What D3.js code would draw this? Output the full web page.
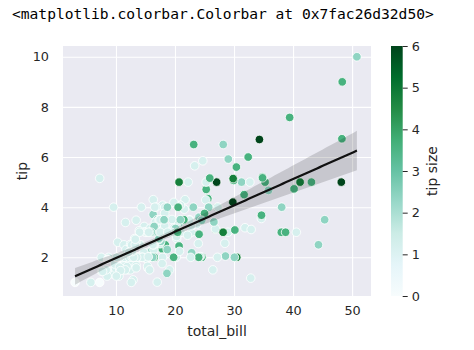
<!DOCTYPE html>
<html><head><meta charset="utf-8">
<script src="https://cdn.jsdelivr.net/npm/d3@7"></script>
<style>
html,body{margin:0;padding:0;background:#fff;}
svg{display:block;}
</style></head>
<body><svg id="chart" width="474" height="350"></svg>
<script>
const totalBill = [16.99,10.34,21.01,23.68,24.59,25.29,8.77,26.88,15.04,14.78,10.27,35.26,15.42,18.43,14.83,21.58,10.33,16.29,16.97,20.65,17.92,20.29,15.77,39.42,19.82,17.81,13.37,12.69,21.7,19.65,9.55,18.35,15.06,20.69,17.78,24.06,16.31,16.93,18.69,31.27,16.04,17.46,13.94,9.68,30.4,18.29,22.23,32.4,28.55,18.04,12.54,10.29,34.81,9.94,25.56,19.49,38.01,26.41,11.24,48.27,20.29,13.81,11.02,18.29,17.59,20.08,16.45,3.07,20.23,15.01,12.02,17.07,26.86,25.28,14.73,10.51,17.92,27.2,22.76,17.29,19.44,16.66,10.07,32.68,15.98,34.83,13.03,18.28,24.71,21.16,28.97,22.49,5.75,16.32,22.75,40.17,27.28,12.03,21.01,12.46,11.35,15.38,44.3,22.42,20.92,15.36,20.49,25.21,18.24,14.31,14.0,7.25,38.07,23.95,25.71,17.31,29.93,10.65,12.43,24.08,11.69,13.42,14.26,15.95,12.48,29.8,8.52,14.52,11.38,22.82,19.08,20.27,11.17,12.26,18.26,8.51,10.33,14.15,16.0,13.16,17.47,34.3,41.19,27.05,16.43,8.35,18.64,11.87,9.78,7.51,14.07,13.13,17.26,24.55,19.77,29.85,48.17,25.0,13.39,16.49,21.5,12.66,16.21,13.81,17.51,24.52,20.76,31.71,10.59,10.63,50.81,15.81,7.25,31.85,16.82,32.9,17.89,14.48,9.6,34.63,34.65,23.33,45.35,23.17,40.55,20.69,20.9,30.46,18.15,23.1,15.69,19.81,28.44,15.48,16.58,7.56,10.34,43.11,13.0,13.51,18.71,12.74,13.0,16.4,20.53,16.47,26.59,38.73,24.27,12.76,30.06,25.89,48.33,13.27,28.17,12.9,28.15,11.59,7.74,30.14,12.16,13.42,8.58,15.98,13.42,16.27,10.09,20.45,13.28,22.12,24.01,15.69,11.61,10.77,15.53,10.07,12.6,32.83,35.83,29.03,27.18,22.67,17.82,18.78];
const tip = [1.01,1.66,3.5,3.31,3.61,4.71,2.0,3.12,1.96,3.23,1.71,5.0,1.57,3.0,3.02,3.92,1.67,3.71,3.5,3.35,4.08,2.75,2.23,7.58,3.18,2.34,2.0,2.0,4.3,3.0,1.45,2.5,3.0,2.45,3.27,3.6,2.0,3.07,2.31,5.0,2.24,2.54,3.06,1.32,5.6,3.0,5.0,6.0,2.05,3.0,2.5,2.6,5.2,1.56,4.34,3.51,3.0,1.5,1.76,6.73,3.21,2.0,1.98,3.76,2.64,3.15,2.47,1.0,2.01,2.09,1.97,3.0,3.14,5.0,2.2,1.25,3.08,4.0,3.0,2.71,3.0,3.4,1.83,5.0,2.03,5.17,2.0,4.0,5.85,3.0,3.0,3.5,1.0,4.3,3.25,4.73,4.0,1.5,3.0,1.5,2.5,3.0,2.5,3.48,4.08,1.64,4.06,4.29,3.76,4.0,3.0,1.0,4.0,2.55,4.0,3.5,5.07,1.5,1.8,2.92,2.31,1.68,2.5,2.0,2.52,4.2,1.48,2.0,2.0,2.18,1.5,2.83,1.5,2.0,3.25,1.25,2.0,2.0,2.0,2.75,3.5,6.7,5.0,5.0,2.3,1.5,1.36,1.63,1.73,2.0,2.5,2.0,2.74,2.0,2.0,5.14,5.0,3.75,2.61,2.0,3.5,2.5,2.0,2.0,3.0,3.48,2.24,4.5,1.61,2.0,10.0,3.16,5.15,3.18,4.0,3.11,2.0,2.0,4.0,3.55,3.68,5.65,3.5,6.5,3.0,5.0,3.5,2.0,3.5,4.0,1.5,4.19,2.56,2.02,4.0,1.44,2.0,5.0,2.0,2.0,4.0,2.01,2.0,2.5,4.0,3.23,3.41,3.0,2.03,2.23,2.0,5.16,9.0,2.5,6.5,1.1,3.0,1.5,1.44,3.09,2.2,3.48,1.92,3.0,1.58,2.5,2.0,3.0,2.72,2.88,2.0,3.0,3.39,1.47,3.0,1.25,1.0,1.17,4.67,5.92,2.0,2.0,1.75,3.0];
const partySize = [2,3,3,2,4,4,2,4,2,2,2,4,2,4,2,2,3,3,3,3,2,2,2,4,2,4,2,2,2,2,2,4,2,4,2,3,3,3,3,3,3,2,2,2,4,2,2,4,3,2,2,2,4,2,4,2,4,2,2,4,2,2,2,4,3,3,2,1,2,2,2,3,2,2,2,2,2,4,2,2,2,2,1,2,2,4,2,2,2,2,2,2,2,2,2,4,2,2,2,2,2,2,3,2,2,2,2,2,2,2,2,1,3,2,3,2,4,2,2,4,2,2,2,2,2,6,2,2,2,3,2,2,2,2,2,2,2,2,2,2,2,6,5,6,2,2,3,2,2,2,2,2,3,4,4,5,6,4,2,4,4,2,3,2,2,3,2,4,2,2,3,2,2,2,2,2,2,2,2,2,4,2,3,4,2,5,3,5,3,3,2,2,2,2,2,2,2,4,2,2,3,2,2,2,4,3,3,4,2,2,3,4,4,2,3,2,5,2,2,4,2,2,1,3,2,2,2,4,2,2,4,3,2,2,2,2,2,2,3,3,2,2,2,2];
const xTicks = [10,20,30,40,50];
const yTicks = [2,4,6,8,10];
const cbTicks = [0,1,2,3,4,5,6];
const buGn = ["#f7fcfd","#e5f5f9","#ccece6","#99d8c9","#66c2a4","#41ae76","#238b45","#006d2c","#00441b"];
const headerText = "<matplotlib.colorbar.Colorbar at 0x7fac26d32d50>";
const xLabel = "total_bill", yLabel = "tip", cbLabel = "tip size";

const svg = d3.select("#chart");
const L = 63, R = 371, T = 46, B = 296;
const x = d3.scaleLinear().domain([1.03, 53.2]).range([L, R]);
const y = d3.scaleLinear().domain([0.457, 10.43]).range([B, T]);
const cmap = d3.scaleLinear().domain(d3.range(9).map(i => i / 8)).range(buGn).interpolate(d3.interpolateRgb).clamp(true);
const hueNorm = d3.scaleLinear().domain([1, 6]).range([0, 1]);
const textCol = "#262626";
const font = "DejaVu Sans, sans-serif";

// header
svg.append("text").attr("x", 12).attr("y", 18.5)
  .attr("font-family", "DejaVu Sans Mono, monospace").attr("font-size", 14.6)
  .attr("fill", "#000").text(headerText);

// axes background
svg.append("rect").attr("x", L).attr("y", T).attr("width", R - L).attr("height", B - T).attr("fill", "#EAEAF2");

// grid via axes
const gx = svg.append("g").attr("transform", `translate(0,${B})`)
  .call(d3.axisBottom(x).tickValues(xTicks).tickSize(-(B - T)).tickPadding(10).tickFormat(d3.format("d")));
const gy = svg.append("g").attr("transform", `translate(${L},0)`)
  .call(d3.axisLeft(y).tickValues(yTicks).tickSize(-(R - L)).tickPadding(14).tickFormat(d3.format("d")));
[gx, gy].forEach(g => {
  g.select(".domain").remove();
  g.selectAll(".tick line").attr("stroke", "#fff").attr("stroke-width", 1.1);
  g.selectAll(".tick text").attr("font-family", font).attr("font-size", 12.8).attr("fill", textCol);
});

// points
const data = totalBill.map((d, i) => ({ x: d, y: tip[i], s: partySize[i] }));
svg.append("g").selectAll("circle").data(data).join("circle")
  .attr("cx", d => x(d.x)).attr("cy", d => y(d.y)).attr("r", 4.3)
  .attr("fill", d => cmap(hueNorm(d.s)))
  .attr("stroke", "#fff").attr("stroke-width", 0.8);

// regression with robust (sandwich) CI
const n = data.length;
const mx = d3.mean(totalBill), my = d3.mean(tip);
let sxx = 0, sxy = 0;
data.forEach(d => { sxx += (d.x - mx) ** 2; sxy += (d.x - mx) * (d.y - my); });
const b1 = sxy / sxx, b0 = my - b1 * mx;
// (X'X)^-1
const Sx = d3.sum(totalBill), Sxx2 = d3.sum(totalBill, v => v * v);
const det = n * Sxx2 - Sx * Sx;
const inv = [[Sxx2 / det, -Sx / det], [-Sx / det, n / det]];
let M = [[0, 0], [0, 0]];
data.forEach(d => {
  const e2 = (d.y - (b0 + b1 * d.x)) ** 2;
  M[0][0] += e2; M[0][1] += e2 * d.x; M[1][0] += e2 * d.x; M[1][1] += e2 * d.x * d.x;
});
const mul = (A, Bm) => [[A[0][0]*Bm[0][0]+A[0][1]*Bm[1][0], A[0][0]*Bm[0][1]+A[0][1]*Bm[1][1]],
                       [A[1][0]*Bm[0][0]+A[1][1]*Bm[1][0], A[1][0]*Bm[0][1]+A[1][1]*Bm[1][1]]];
const V = mul(mul(inv, M), inv);
const xmin = d3.min(totalBill), xmax = d3.max(totalBill);
const grid = d3.range(100).map(i => xmin + (xmax - xmin) * i / 99);
const fit = grid.map(g => {
  const yh = b0 + b1 * g;
  const se = Math.sqrt(V[0][0] + 2 * g * V[0][1] + g * g * V[1][1]);
  return { x: g, y: yh, lo: yh - 1.96 * se, hi: yh + 1.96 * se };
});
svg.append("path").datum(fit)
  .attr("d", d3.area().x(d => x(d.x)).y0(d => y(d.lo)).y1(d => y(d.hi)))
  .attr("fill", "#000").attr("fill-opacity", 0.15);
svg.append("path").datum(fit)
  .attr("d", d3.line().x(d => x(d.x)).y(d => y(d.y)))
  .attr("fill", "none").attr("stroke", "#111").attr("stroke-width", 2.2);

// axis labels
svg.append("text").attr("x", (L + R) / 2).attr("y", 336).attr("text-anchor", "middle")
  .attr("font-family", font).attr("font-size", 14).attr("fill", textCol).text(xLabel);
svg.append("text").attr("transform", `translate(27,${(T + B) / 2}) rotate(-90)`).attr("text-anchor", "middle")
  .attr("font-family", font).attr("font-size", 14).attr("fill", textCol).text(yLabel);

// colorbar
const cbL = 391, cbR = 402.7;
const cy = d3.scaleLinear().domain([0, 6]).range([B, T]);
const grad = svg.append("defs").append("linearGradient").attr("id", "cbgrad")
  .attr("x1", 0).attr("y1", 1).attr("x2", 0).attr("y2", 0);
buGn.forEach((c, i) => grad.append("stop").attr("offset", i / 8).attr("stop-color", c));
svg.append("rect").attr("x", cbL).attr("y", T).attr("width", cbR - cbL).attr("height", B - T).attr("fill", "url(#cbgrad)");
const gc = svg.append("g").attr("transform", `translate(${cbR},0)`)
  .call(d3.axisRight(cy).tickValues(cbTicks).tickSize(5).tickPadding(4).tickFormat(d3.format("d")));
gc.select(".domain").remove();
gc.selectAll(".tick line").attr("stroke", textCol).attr("stroke-width", 1);
gc.selectAll(".tick text").attr("font-family", font).attr("font-size", 12.8).attr("fill", textCol);
svg.append("text").attr("transform", `translate(437,${(T + B) / 2}) rotate(-90)`).attr("text-anchor", "middle")
  .attr("font-family", font).attr("font-size", 14).attr("fill", textCol).text(cbLabel);
</script></body></html>
